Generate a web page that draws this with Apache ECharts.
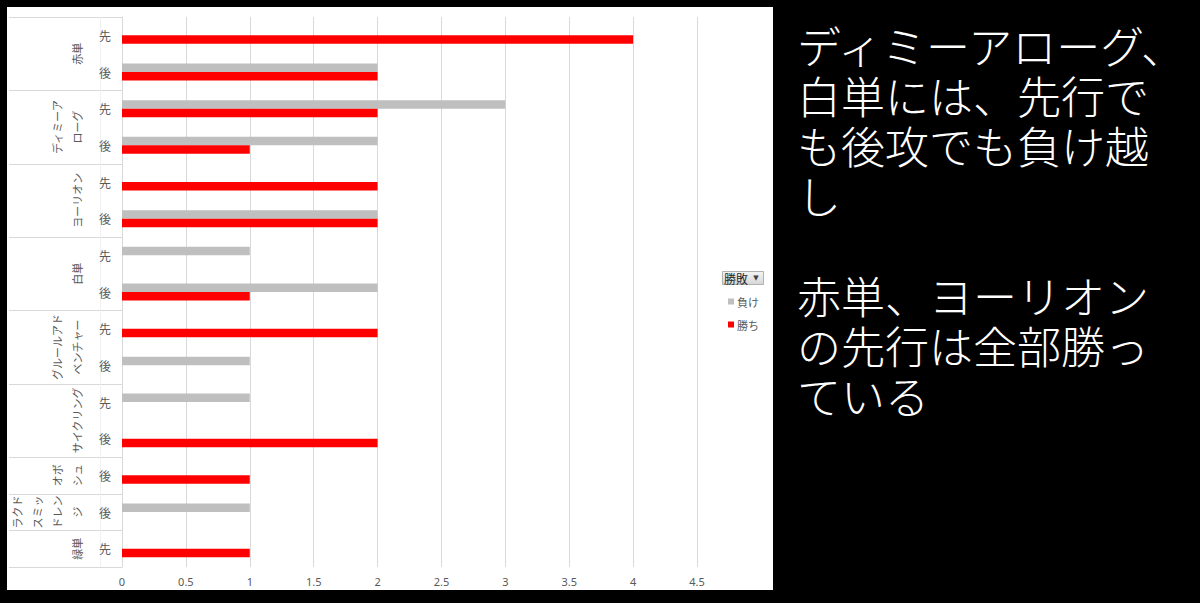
<!DOCTYPE html>
<html><head><meta charset="utf-8">
<script src="https://cdn.jsdelivr.net/npm/echarts@6/dist/echarts.min.js"></script>
<style>
html,body{margin:0;padding:0;background:#000;width:1200px;height:603px;overflow:hidden}
#panel{position:absolute;left:7px;top:7px;width:766px;height:583px;background:#fff}
#chart{position:absolute;left:0;top:0;width:1200px;height:603px}
</style></head><body>
<div id="panel"></div><div id="chart"></div>
<script>
// categories: "group|side"
const categories = ['赤単|先','赤単|後','ディミーアローグ|先','ディミーアローグ|後','ヨーリオン|先','ヨーリオン|後','白単|先','白単|後','グルールアドベンチャー|先','グルールアドベンチャー|後','サイクリング|先','サイクリング|後','オボシュ|後','ラクドスミッドレンジ|後','緑単|先'];
const groupNames = ['赤単','ディミーアローグ','ヨーリオン','白単','グルールアドベンチャー','サイクリング','オボシュ','ラクドスミッドレンジ','緑単'];
const groupLabels = ['赤単','ディミーア\nローグ','ヨーリオン','白単','グルールアド\nベンチャー','サイクリング','オボ\nシュ','ラクド\nスミッ\nドレン\nジ','緑単'];
const loseValues = [null,2,3,2,null,2,1,2,null,1,1,null,null,1,null];
const winValues  = [4,2,2,1,2,2,null,1,2,null,null,2,1,null,1];
const seriesNames = ['負け','勝ち'];
const legendTitle = '勝敗';
const noteLines = ['ディミーアローグ、','白単には、先行で','も後攻でも負け越','し','','赤単、ヨーリオン','の先行は全部勝っ','ている'];

const chart = echarts.init(document.getElementById('chart'), null, {renderer:'svg'});
const txt = '#595959';
const option = {
  backgroundColor: 'transparent',
  animation: false,
  grid: {left:122, right:503, top:17, bottom:36, containLabel:false},
  xAxis: {
    type:'value', min:0, max:4.5, interval:0.5,
    axisLine:{show:false}, axisTick:{show:false},
    axisLabel:{color:txt, fontSize:11, margin:9, fontFamily:'Noto Sans', showMaxLabel:true},
    splitLine:{lineStyle:{color:'#d9d9d9', width:1}}
  },
  yAxis: {
    type:'category', inverse:true, data:categories,
    axisLine:{lineStyle:{color:'#d9d9d9'}}, axisTick:{show:false},
    axisLabel:{color:txt, fontSize:12, margin:11, fontFamily:'Noto Sans CJK JP',
      formatter:v=>v.split('|')[1]}
  },
  legend: {
    orient:'vertical', left:723, top:290, itemWidth:6, itemHeight:6, itemGap:10,
    icon:'rect', data:seriesNames,
    textStyle:{color:txt, fontSize:11, lineHeight:13, fontFamily:'Noto Sans CJK JP', padding:[0,0,0,-2]}
  },
  series: [
    {name:seriesNames[0], type:'bar', data:loseValues, barWidth:8.5, barGap:'0%', itemStyle:{color:'#bfbfbf'}},
    {name:seriesNames[1], type:'bar', data:winValues, barWidth:8.5, barGap:'0%', itemStyle:{color:'#ff0000'}}
  ]
};
chart.setOption(option);

// build category table decorations using the axis scale
const pos = i => chart.convertToPixel({gridIndex:0}, [0, i])[1];
const band = pos(1) - pos(0);
const elements = [];
const groupOf = c => c.split('|')[0];
let start = 0;
const boundaries = [pos(0) - band/2];
groupNames.forEach((g, gi) => {
  let end = start;
  while (end + 1 < categories.length && groupOf(categories[end+1]) === g) end++;
  const top = pos(start) - band/2, bottom = pos(end) + band/2;
  boundaries.push(bottom);
  elements.push({
    type:'text', x:87, y:(top+bottom)/2, rotation:Math.PI/2,
    style:{text:groupLabels[gi], fill:txt, font:'11px "Noto Sans CJK JP"', align:'center', verticalAlign:'bottom', lineHeight:20}
  });
  start = end + 1;
});
boundaries.forEach(y => {
  elements.push({type:'line', shape:{x1:9, y1:Math.round(y)+0.5, x2:122, y2:Math.round(y)+0.5}, style:{stroke:'#d9d9d9', lineWidth:1}});
});
elements.push({type:'line', shape:{x1:100.5, y1:boundaries[0], x2:100.5, y2:boundaries[boundaries.length-1]}, style:{stroke:'#f0f0f0', lineWidth:1}});
// pivot field button
elements.push({type:'rect', shape:{x:722.5, y:271.5, width:41, height:13}, style:{fill:{type:'linear',x:0,y:0,x2:0,y2:1,colorStops:[{offset:0,color:'#f4f4f4'},{offset:1,color:'#d6d6d6'}]}, stroke:'#b0b0b0', lineWidth:1}});
elements.push({type:'text', x:724, y:278, style:{text:legendTitle, fill:'#262626', font:'12px "Noto Sans CJK JP"', verticalAlign:'middle'}});
elements.push({type:'text', x:756, y:278, style:{text:'▼', fill:'#404040', font:'7px "DejaVu Sans"', align:'center', verticalAlign:'middle'}});
// note text (single block)
elements.push({type:'text', x:797, y:20, style:{text:noteLines.join('\n'), fill:'#ffffff', font:'300 44px "Noto Sans CJK JP"', lineHeight:50, verticalAlign:'top'}});
chart.setOption({graphic:{elements}});
</script>
</body></html>
